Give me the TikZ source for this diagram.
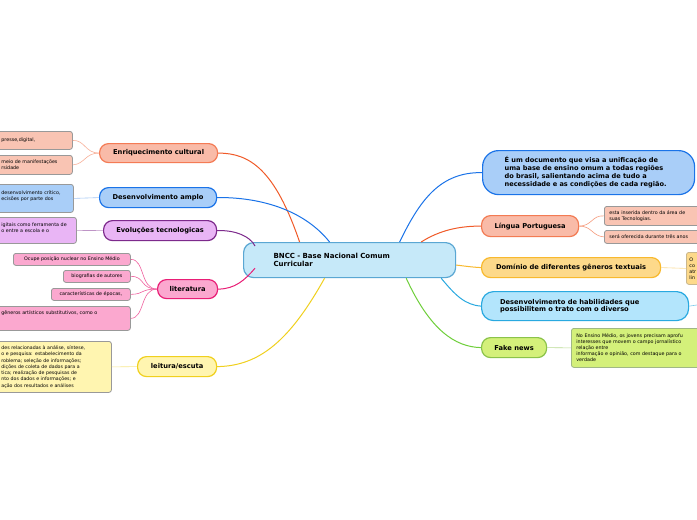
\documentclass[tikz,border=0pt]{standalone}
\usepackage{fontspec}
\setmainfont{DejaVu Sans}
\begin{document}
\begin{tikzpicture}[x=1pt,y=-1pt,
 main/.style={draw,line width=1.2pt,rounded corners=9pt,font=\fontsize{6.7}{7.5}\selectfont\bfseries,inner sep=0pt,anchor=north west},
 sub/.style={draw=black!40,line width=0.8pt,rounded corners=2.5pt,font=\fontsize{4.8}{6}\selectfont,inner sep=0pt,anchor=north west,align=left},
 edge/.style={line width=1pt},
 thin/.style={line width=0.6pt}]
\useasboundingbox (0,0) rectangle (697,520);
\fill[white] (0,0) rectangle (697,520);
\definecolor{cbl}{HTML}{C6E9F9}\definecolor{bbl}{HTML}{5AA7D3}
\definecolor{fsal}{HTML}{F9BBA8}\definecolor{bsal}{HTML}{F47B55}\definecolor{esal}{HTML}{F05A28}
\definecolor{fblu}{HTML}{A9CEF8}\definecolor{bblu}{HTML}{1A73E8}
\definecolor{fpur}{HTML}{E9B5F5}\definecolor{bpur}{HTML}{7D2A8C}
\definecolor{fpin}{HTML}{FBA8CF}\definecolor{bpin}{HTML}{E91E76}
\definecolor{fyel}{HTML}{FFF5B0}\definecolor{byel}{HTML}{F0D01E}
\definecolor{fora}{HTML}{FDD98A}\definecolor{bora}{HTML}{F8B92E}
\definecolor{fcya}{HTML}{B3E5FC}\definecolor{bcya}{HTML}{29A9E0}
\definecolor{fgre}{HTML}{D4F07A}\definecolor{bgre}{HTML}{8BC34A}
\definecolor{sfill}{HTML}{F9C4B3}

% center
\node[main,fill=cbl,draw=bbl,minimum width=212pt,minimum height=35pt,align=left,text width=190pt,rounded corners=10pt,font=\fontsize{7}{8.5}\selectfont\bfseries] (c) at (243,242) {\hspace*{19pt}BNCC - Base Nacional Comum\\\hspace*{19pt}Curricular};

% left main nodes
\node[main,fill=fsal,draw=bsal,minimum width=118pt,minimum height=19pt] (en) at (99,143) {Enriquecimento cultural};
\node[main,fill=fblu,draw=bblu,minimum width=117pt,minimum height=20pt] (da) at (99,187) {Desenvolvimento amplo};
\node[main,fill=fpur,draw=bpur,minimum width=113pt,minimum height=20pt] (ev) at (103,220) {Evoluções tecnologicas};
\node[main,fill=fpin,draw=bpin,minimum width=60pt,minimum height=19pt] (li) at (157,279) {literatura};
\node[main,fill=fyel,draw=byel,minimum width=79pt,minimum height=20pt] (le) at (137,356) {leitura/escuta};

% right main nodes
\node[main,fill=fblu,draw=bblu,minimum width=212pt,minimum height=44pt,rounded corners=16pt,text width=180pt,align=left,font=\fontsize{6.6}{8}\selectfont\bfseries] (doc) at (482,150) {\hspace*{6pt}É um documento que visa a unificação de\\\hspace*{6pt}uma base de ensino omum a todas regiões\\\hspace*{6pt}do brasil, salientando acima de tudo a\\\hspace*{6pt}necessidade e as condições de cada região.};
\node[main,fill=fsal,draw=esal!80,minimum width=97pt,minimum height=21pt] (lp) at (481,215) {Língua Portuguesa};
\node[main,fill=fora,draw=bora,minimum width=179pt,minimum height=20pt] (dg) at (481,257) {Domínio de diferentes gêneros textuais};
\node[main,fill=fcya,draw=bcya,minimum width=207pt,minimum height=29pt,text width=190pt,align=left,rounded corners=12pt] (dh) at (481,291) {\hspace*{10pt}Desenvolvimento de habilidades que\\\hspace*{10pt}possibilitem o trato com o diverso};
\node[main,fill=fgre,draw=bgre,minimum width=65pt,minimum height=20pt] (fn) at (481,337) {Fake news};

% main edges
\draw[edge,esal] (c.north)++(-50,0) coordinate (c1) (c1) .. controls (275,170) and (250,153) .. (en.east);
\draw[edge,bblu] (c.north)++(-20,0) coordinate (c2) (c2) .. controls (300,205) and (250,197) .. (da.east);
\draw[edge,bpur] (c.north west)++(12,4) coordinate (c3) (c3) .. controls (250,236) and (235,230) .. (ev.east);
\draw[edge,bpin] (c.south west)++(12,-10) coordinate (c4) (c4) .. controls (245,280) and (235,289) .. (li.east);
\draw[edge,byel] (c.south)++(-25,0) coordinate (c5) (c5) .. controls (290,340) and (260,366) .. (le.east);
\draw[edge,bblu] (c.north)++(50,0) coordinate (c6) (c6) .. controls (420,200) and (440,172) .. (doc.west);
\draw[edge,esal] (c.north east)++(-35,0) coordinate (c7) (c7) .. controls (440,230) and (460,226) .. (lp.west);
\draw[edge,bora] (c.east)++(0,5) coordinate (c8) (c8) .. controls (465,266) and (470,267) .. (dg.west);
\draw[edge,bcya] (c.south east)++(-15,0) coordinate (c9) (c9) .. controls (455,295) and (465,305) .. (dh.west);
\draw[edge,bgre!80!green] (c.south east)++(-50,0) coordinate (c10) (c10) .. controls (430,330) and (455,347) .. (fn.west);

% left children
\node[sub,fill=sfill,minimum width=80pt,minimum height=18pt,text width=78pt] (en1) at (-8,131) {\hspace*{8pt}presse,digital,};
\node[sub,fill=sfill,minimum width=80pt,minimum height=19pt,text width=78pt] (en2) at (-8,155) {\hspace*{8pt}meio de manifestações\\\hspace*{8pt}rsidade};
\node[sub,fill=fblu,minimum width=81pt,minimum height=28pt,text width=79pt] (da1) at (-8,184) {\hspace*{8pt}desenvolvimento crítico,\\\hspace*{8pt}ecisões por parte dos\\\mbox{}};
\node[sub,fill=fpur,minimum width=84pt,minimum height=26pt,text width=82pt] (ev1) at (-8,217) {\hspace*{8pt}igitais como ferramenta de\\\hspace*{8pt}o entre a escola e o\\\mbox{}};
\node[sub,fill=fpin,minimum width=117pt,minimum height=12pt,align=center] (li1) at (13,253) {Ocupe posição nuclear no Ensino Médio};
\node[sub,fill=fpin,minimum width=67pt,minimum height=12pt,align=center] (li2) at (63,270) {biografias de autores};
\node[sub,fill=fpin,minimum width=79pt,minimum height=12pt,align=center] (li3) at (51,288) {características de épocas,};
\node[sub,fill=fpin,minimum width=138pt,minimum height=24pt,text width=136pt] (li4) at (-8,306) {\hspace*{8pt}gêneros artísticos substitutivos, como o\\\mbox{}\\\mbox{}};
\node[sub,fill=fyel,minimum width=119pt,minimum height=51pt,text width=117pt,font=\fontsize{4.7}{6.3}\selectfont] (le1) at (-8,341) {\hspace*{8pt}des relacionadas à análise, síntese,\\\hspace*{8pt}o e pesquisa: estabelecimento da\\\hspace*{8pt}roblema; seleção de informações;\\\hspace*{8pt}dições de coleta de dados para a\\\hspace*{8pt}tica; realização de pesquisas de\\\hspace*{8pt}nto dos dados e informações; e\\\hspace*{8pt}ação dos resultados e análises};

\draw[thin,bsal!60] (en.west) .. controls (85,153) and (85,140) .. (en1.east);
\draw[thin,bsal!60] (en.west) .. controls (85,153) and (85,164) .. (en2.east);
\draw[thin,bblu!40] (da.west) -- (da1.east);
\draw[thin,bpur!50] (ev.west) -- (ev1.east);
\draw[thin,bpin!70] (li.west) .. controls (140,289) and (145,259) .. (li1.east);
\draw[thin,bpin!70] (li.west) .. controls (140,289) and (145,276) .. (li2.east);
\draw[thin,bpin!70] (li.west) .. controls (140,289) and (145,294) .. (li3.east);
\draw[thin,bpin!70] (li.west) .. controls (140,289) and (145,318) .. (li4.east);
\draw[thin,byel!50] (le.west) -- (le1.east);

% right children
\node[sub,fill=sfill,minimum width=100pt,minimum height=19pt,text width=98pt] (lp1) at (604,206) {\hspace*{4pt}esta inserida dentro da área de\\\hspace*{4pt}suas Tecnologias.};
\node[sub,fill=sfill,minimum width=100pt,minimum height=13pt,text width=98pt] (lp2) at (604,230) {\hspace*{4pt}será oferecida durante três anos};
\node[sub,fill=fora,minimum width=30pt,minimum height=32pt,text width=28pt,draw=bora!60!black!50] (dg1) at (686,252) {\hspace*{2pt}O\\\hspace*{2pt}co\\\hspace*{2pt}atr\\\hspace*{2pt}lin};
\coordinate (dh1) at (697,305);
\node[sub,fill=fgre,minimum width=135pt,minimum height=39pt,text width=133pt,draw=bgre!70!black!60] (fn1) at (571,328) {\hspace*{4pt}No Ensino Médio, os jovens precisam aprofu\\\hspace*{4pt}interesses que movem o campo jornalístico\\\hspace*{4pt}relação entre\\\hspace*{4pt}informação e opinião, com destaque para o\\\hspace*{4pt}verdade};

\draw[thin,esal!60] (lp.east) .. controls (592,226) and (592,215) .. (lp1.west);
\draw[thin,esal!60] (lp.east) .. controls (592,226) and (592,236) .. (lp2.west);
\draw[thin,bora!50] (dg.east) -- (dg1.west);
\draw[thin,bcya!60] (dh.east) -- (dh1);
\draw[thin,bgre!60] (fn.east) -- (fn1.west);
\end{tikzpicture}
\end{document}
